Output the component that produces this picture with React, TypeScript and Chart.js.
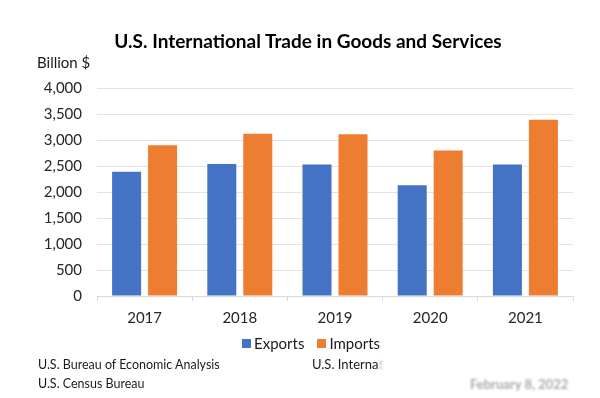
import React, { useEffect, useRef } from "react";
import { Chart, registerables } from "chart.js";

Chart.register(...registerables);

const years = ["2017", "2018", "2019", "2020", "2021"];
const exportsValues = [2390, 2540, 2530, 2130, 2530];
const importsValues = [2900, 3120, 3110, 2800, 3390];
const yTicks = [0, 500, 1000, 1500, 2000, 2500, 3000, 3500, 4000];
const seriesNames = ["Exports", "Imports"];
const seriesColors = ["#4472C4", "#ED7D31"];

const FONT = "Lato, 'Open Sans', sans-serif";

export default function App() {
  const ref = useRef<HTMLCanvasElement | null>(null);

  useEffect(() => {
    if (!ref.current) return;
    const chart = new Chart(ref.current, {
      type: "bar",
      data: {
        labels: years,
        datasets: [
          {
            label: seriesNames[0],
            data: exportsValues,
            backgroundColor: seriesColors[0],
            categoryPercentage: 0.756,
            barPercentage: 0.806,
          },
          {
            label: seriesNames[1],
            data: importsValues,
            backgroundColor: seriesColors[1],
            categoryPercentage: 0.756,
            barPercentage: 0.806,
          },
        ],
      },
      options: {
        animation: false,
        responsive: false,
        maintainAspectRatio: false,
        layout: { padding: { left: 0, right: 27, top: 88, bottom: 72 } },
        plugins: {
          legend: { display: false },
          title: { display: false },
          tooltip: { enabled: false },
        },
        scales: {
          x: {
            offset: true,
            grid: {
              offset: true,
              drawOnChartArea: false,
              drawTicks: true,
              tickLength: 5,
              color: "#d9d9d9",
            },
            border: { display: true, color: "#d9d9d9", width: 1 },
            ticks: {
              color: "#262626",
              font: { family: FONT, size: 15 },
              padding: 8,
            },
            afterFit: (s: any) => {
              s.height = 30;
            },
          },
          y: {
            min: 0,
            max: 4000,
            afterBuildTicks: (s: any) => {
              s.ticks = yTicks.map((v) => ({ value: v }));
            },
            grid: { color: "#e3e3e3", drawTicks: false },
            border: { display: false },
            ticks: {
              color: "#262626",
              font: { family: FONT, size: 15 },
              padding: 15,
              callback: (v: any) => Number(v).toLocaleString("en-US"),
            },
            afterFit: (s: any) => {
              s.width = 97;
            },
          },
        },
      },
    });
    return () => chart.destroy();
  }, []);

  const txt: React.CSSProperties = {
    position: "absolute",
    fontFamily: FONT,
    color: "#1a1a1a",
    whiteSpace: "nowrap",
  };

  return (
    <div
      style={{
        position: "fixed",
        left: 0,
        top: 0,
        width: 600,
        height: 398,
        background: "#fff",
        overflow: "hidden",
      }}
    >
      <canvas ref={ref} width={600} height={398} style={{ position: "absolute", left: 0, top: 0 }} />
      <div
        style={{
          ...txt,
          left: 8,
          width: 600,
          textAlign: "center",
          top: 29,
          fontSize: 19,
          fontWeight: 700,
          color: "#000",
        }}
      >
        U.S. International Trade in Goods and Services
      </div>
      <div style={{ ...txt, left: 37, top: 53, fontSize: 15 }}>Billion $</div>
      <div
        style={{
          ...txt,
          left: 242,
          top: 334,
          display: "flex",
          gap: 13,
          fontSize: 15,
        }}
      >
        {seriesNames.map((n, i) => (
          <span key={n} style={{ display: "flex", alignItems: "center" }}>
            <span
              style={{
                display: "inline-block",
                width: 9,
                height: 9,
                background: seriesColors[i],
                marginRight: 3,
                marginTop: 1,
              }}
            />
            {n}
          </span>
        ))}
      </div>
      <div style={{ ...txt, left: 38, top: 356, fontSize: 13, transform: "scaleX(0.96)", transformOrigin: "left" }}>
        U.S. Bureau of Economic Analysis
      </div>
      <div style={{ ...txt, left: 38, top: 375, fontSize: 13, transform: "scaleX(0.96)", transformOrigin: "left" }}>
        U.S. Census Bureau
      </div>
      <div style={{ ...txt, left: 312, top: 356, fontSize: 13 }}>
        U.S. Interna<span style={{ color: "#bbb", filter: "blur(1px)" }}>t</span>
      </div>
      <div
        style={{
          ...txt,
          left: 470,
          top: 376,
          fontSize: 13,
          fontWeight: 700,
          color: "#aaa",
          filter: "blur(1.2px)",
        }}
      >
        February 8, 2022
      </div>
    </div>
  );
}
